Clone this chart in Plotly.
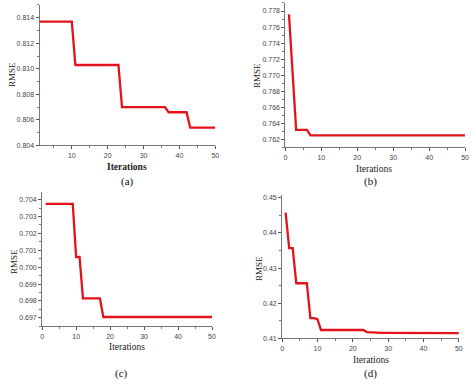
import plotly.graph_objects as go

W, H = 474, 384

# ---- data ----
iters = list(range(1, 51))
rmse_a = [0.8137]*10 + [0.8103]*13 + [0.8070]*13 + [0.8066]*6 + [0.8054]*8
rmse_b = [0.7776, 0.7704] + [0.7632]*4 + [0.7625]*44
rmse_c = [0.70375]*9 + [0.7006]*2 + [0.69815]*6 + [0.69705]*33
rmse_d = ([0.4458] + [0.4357]*2 + [0.4257]*4 + [0.4158]*2 + [0.4155] + [0.4124]*13
          + [0.4118] + [0.4117]*2 + [0.4116]*10 + [0.4115]*14)

panels = [
    (rmse_a, [38, 216, 4, 146], [1, 50], [0.804, 0.815], 0.804, 0.002, ".3f", "(a)", (127, 168), (10, 74), (127, 182), True),
    (rmse_b, [287, 469, 2, 148], [0, 50], [0.761, 0.779], 0.762, 0.002, ".3f", "(b)", (377, 170), (258, 75), (373, 182), False),
    (rmse_c, [40.7, 212.7, 193, 328.7], [0, 50], [0.6965, 0.70445], 0.697, 0.001, ".3f", "(c)", (127, 350), (12, 263), (121, 376), False),
    (rmse_d, [283.7, 462.7, 196, 341], [0, 50], [0.41, 0.4508], 0.41, 0.01, ".2f", "(d)", (374, 363), (260, 270), (373, 376), False),
]

fig = go.Figure()
annotations = []
tickfont = dict(family="Liberation Sans, Arial, sans-serif", size=7, color="#444")
serif = "Liberation Serif, DejaVu Serif, serif"

for i, (ser, box, xr, yr, y0, dy, fmt, cap, xl, yl, cp, bold) in enumerate(panels):
    n = "" if i == 0 else str(i + 1)
    x0, x1, yt, yb = box
    fig.add_trace(go.Scatter(x=iters, y=ser, mode="lines",
                             line=dict(color="#e3121b", width=2.3),
                             xaxis="x" + n, yaxis="y" + n, showlegend=False))
    fig.layout["xaxis" + n] = dict(
        domain=[x0 / W, x1 / W], range=xr, anchor="y" + n,
        tick0=0, dtick=10, ticks="outside", ticklen=3, tickwidth=1, tickcolor="#555",
        minor=dict(ticks="outside", ticklen=2, dtick=5, tick0=0, tickcolor="#777"),
        showline=True, linecolor="#777", linewidth=1, showgrid=False, zeroline=False,
        tickfont=tickfont, fixedrange=True, ticklabeloverflow="allow",
    )
    fig.layout["yaxis" + n] = dict(
        domain=[1 - yb / H, 1 - yt / H], range=yr, anchor="x" + n,
        tick0=y0, dtick=dy, tickformat=fmt, ticks="outside", ticklen=3, tickwidth=1, tickcolor="#555",
        minor=dict(ticks="outside", ticklen=2, dtick=dy / 2, tick0=y0, tickcolor="#777"),
        showline=True, linecolor="#777", linewidth=1, showgrid=False, zeroline=False,
        tickfont=tickfont, fixedrange=True,
    )
    xt = "<b>Iterations</b>" if bold else "Iterations"
    annotations.append(dict(text=xt, x=xl[0] / W, y=1 - xl[1] / H, xref="paper", yref="paper",
                            showarrow=False, font=dict(family=serif, size=9.5, color="#222"),
                            xanchor="center", yanchor="middle", borderpad=0))
    annotations.append(dict(text="RMSE", x=yl[0] / W, y=1 - yl[1] / H, xref="paper", yref="paper",
                            showarrow=False, textangle=-90, font=dict(family=serif, size=9, color="#222"),
                            xanchor="center", yanchor="middle", borderpad=0))
    annotations.append(dict(text=cap, x=cp[0] / W, y=1 - cp[1] / H, xref="paper", yref="paper",
                            showarrow=False, font=dict(family=serif, size=11, color="#111"),
                            xanchor="center", yanchor="middle", borderpad=0))

fig.update_layout(width=W, height=H, margin=dict(l=0, r=0, t=0, b=0),
                  paper_bgcolor="white", plot_bgcolor="white",
                  annotations=annotations)

fig.write_html("out.html", config={"displayModeBar": False},
               post_script="document.body.style.margin='0';")
